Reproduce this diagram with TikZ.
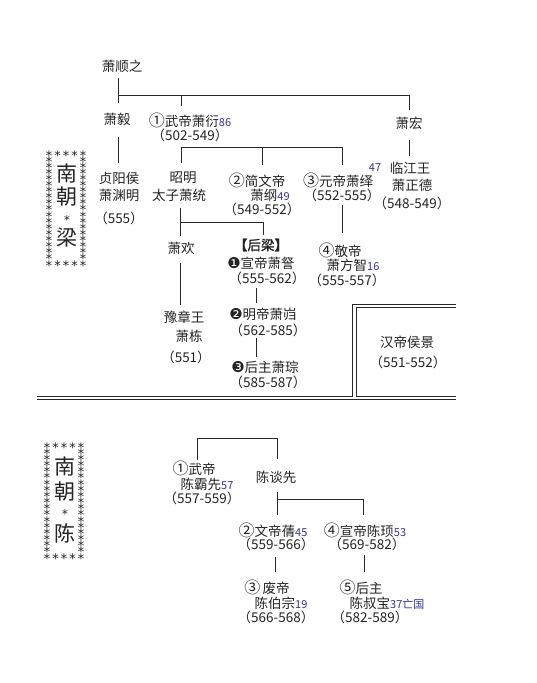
\documentclass[tikz,border=0pt]{standalone}
\usepackage{fontspec}
\setmainfont{Noto Sans CJK SC}
\newfontfamily\dv{DejaVu Sans}
\newfontfamily\dvm{DejaVu Sans Mono}
\newfontfamily\cjkb[FakeBold=1.5]{Noto Sans CJK SC}
\definecolor{nb}{RGB}{50,50,160}
\definecolor{tx}{RGB}{35,35,35}
\definecolor{ln}{RGB}{40,40,40}
\newcommand\bn[1]{{\fontsize{11}{11}\selectfont\color{nb}#1}}
\newcommand\cn[1]{{\fontsize{16}{13}\selectfont #1}}
\newcommand\bc[1]{{\dv\fontsize{15}{13}\selectfont #1}}
\begin{document}
\begin{tikzpicture}[x=1pt,y=-1pt,
  t/.style={font=\fontsize{13.5}{13.5}\selectfont, text=tx, inner sep=0pt},
  lk/.style={draw=ln, line width=0.8pt},
  dbl/.style={draw=ln, line width=0.9pt},
  big/.style={font=\fontsize{21}{21}\selectfont, text=tx, inner sep=0pt},
  sta/.style={font=\dvm\fontsize{13}{13}\selectfont, text=tx, inner sep=0pt, anchor=base},
  strow/.style={font=\dvm\fontsize{12}{12}\selectfont, text=tx, inner sep=0pt}]
\useasboundingbox (0,0) rectangle (537,683);

% ---------- star boxes ----------
\foreach \x [count=\n] in {49,57.5,66,74.5,83} {
  \node[sta] (lt\n) at (\x,160) {*};
  \node[sta] (lb\n) at (\x,270) {*};
}
\foreach \i in {1,...,17} {
  \node[sta] (ll\i) at (49,{160+\i*6.1}) {*};
  \node[sta] (lr\i) at (83,{160+\i*6.1}) {*};
}
\node[big] (lnan) at (67,174) {南};
\node[big] (lchao) at (67,197) {朝};
\node[strow] (lstar) at (67,220) {*};
\node[big] (lliang) at (67,238) {梁};

\foreach \x [count=\n] in {47,55.5,64,72.5,81} {
  \node[sta] (ct\n) at (\x,452) {*};
  \node[sta] (cb\n) at (\x,563) {*};
}
\foreach \i in {1,...,17} {
  \node[sta] (cl\i) at (47,{452+\i*6.1667}) {*};
  \node[sta] (cr\i) at (81,{452+\i*6.1667}) {*};
}
\node[big] (cnan) at (65,467) {南};
\node[big] (cchao) at (65,492) {朝};
\node[strow] (cstar) at (65,514) {*};
\node[big] (cchen) at (65,533) {陈};

% ---------- Liang ----------
\node[t] (sz) at (122,66) {萧顺之};
\node[t] (yi) at (117,119) {萧毅};
\node[t] (zy1) at (119,178) {贞阳侯};
\node[t] (zy2) at (119,195) {萧渊明};
\node[t] (zy3) at (119,218) {（555）};
\node[t] (wu1) at (190,120) {\cn{①}武帝萧衍\bn{86}};
\node[t] (wu2) at (190,135) {（502-549）};
\node[t] (zm1) at (183,178) {昭明};
\node[t] (zm2) at (179,195) {太子萧统};
\node[t] (jw1) at (257,180) {\cn{②}简文帝};
\node[t] (jw2) at (270,195) {萧纲\bn{49}};
\node[t] (jw3) at (262,209) {（549-552）};
\node[t] (yd1) at (338,180) {\cn{③}元帝萧绎};
\node[t] (n47) at (375,168) {\bn{47}};
\node[t] (yd2) at (342,195) {（552-555）};
\node[t] (xh) at (409,123) {萧宏};
\node[t] (lj1) at (410,168) {临江王};
\node[t] (lj2) at (412,185) {萧正德};
\node[t] (lj3) at (412,203) {（548-549）};
\node[t] (jd1) at (340,250) {\cn{④}敬帝};
\node[t] (jd2) at (353,265) {萧方智\bn{16}};
\node[t] (jd3) at (347,280) {（555-557）};
\node[t] (hl) at (261,245) {\cjkb【后梁】};
\node[t] (xd1) at (261,263) {\bc{❶}宣帝萧詧};
\node[t] (xd2) at (267,278.5) {（555-562）};
\node[t] (xhuan) at (181,248) {萧欢};
\node[t] (yz1) at (184,317) {豫章王};
\node[t] (yz2) at (189,336) {萧栋};
\node[t] (yz3) at (186,357) {（551）};
\node[t] (md1) at (263,314) {\bc{❷}明帝萧岿};
\node[t] (md2) at (268,330) {（562-585）};
\node[t] (hz1) at (265,367) {\bc{❸}后主萧琮};
\node[t] (hz2) at (268,382.5) {（585-587）};
\node[t] (hj1) at (407,342) {汉帝侯景};
\node[t] (hj2) at (408,362) {（551-552）};

% connector points (Liang)
\coordinate (a1) at (118,78);   \coordinate (a2) at (118,95);  \coordinate (a3) at (118,103);
\coordinate (a4) at (409,95);
\coordinate (a5) at (118,137);  \coordinate (a6) at (118,163);
\coordinate (b1) at (181,95);   \coordinate (b2) at (181,106);
\coordinate (c1) at (181,147);  \coordinate (c2) at (181,163);
\coordinate (c3) at (262,147);  \coordinate (c4) at (262,165);
\coordinate (c5) at (342,147);  \coordinate (c6) at (342,165);
\coordinate (h1) at (409,110);  \coordinate (h2) at (409,140); \coordinate (h3) at (409,156);
\coordinate (e1) at (342,205);  \coordinate (e2) at (342,233);
\coordinate (f1) at (180,208);  \coordinate (f2) at (180,222); \coordinate (f3) at (180,236);
\coordinate (f4) at (263,222);  \coordinate (f5) at (263,235);
\coordinate (g1) at (180,263);  \coordinate (g2) at (180,305);
\coordinate (k1) at (256,288);  \coordinate (k2) at (256,303);
\coordinate (k3) at (256,338);  \coordinate (k4) at (256,357);

\draw[lk] (a1) -- (a3);
\draw[lk] (a2) -- (a4);
\draw[lk] (a5) -- (a6);
\draw[lk] (b1) -- (b2);
\draw[lk] (c1) -- (c2);
\draw[lk] (c1) -- (c5);
\draw[lk] (c3) -- (c4);
\draw[lk] (c5) -- (c6);
\draw[lk] (a4) -- (h1);
\draw[lk] (h2) -- (h3);
\draw[lk] (e1) -- (e2);
\draw[lk] (f1) -- (f3);
\draw[lk] (f2) -- (f4) -- (f5);
\draw[lk] (g1) -- (g2);
\draw[lk] (k1) -- (k2);
\draw[lk] (k3) -- (k4);

% double border lines
\coordinate (d1) at (37,396);  \coordinate (d2) at (352,396);
\coordinate (d3) at (352,304); \coordinate (d4) at (456,304);
\coordinate (d5) at (456,307); \coordinate (d6) at (356,307);
\coordinate (d7) at (356,396); \coordinate (d8) at (456,396);
\coordinate (d9) at (37,399.5); \coordinate (d10) at (456,399.5);
\draw[dbl] (d1) -- (d2) -- (d3) -- (d4);
\draw[dbl] (d5) -- (d6) -- (d7) -- (d8);
\draw[dbl] (d9) -- (d10);

% ---------- Chen ----------
\node[t] (cw1) at (194,468) {\cn{①}武帝};
\node[t] (cw2) at (207,484) {陈霸先\bn{57}};
\node[t] (cw3) at (202,498) {（557-559）};
\node[t] (ctx) at (276,477) {陈谈先};
\node[t] (wd1) at (273,530) {\cn{②}文帝蒨\bn{45}};
\node[t] (wd2) at (276,544) {（559-566）};
\node[t] (xc1) at (365,530) {\cn{④}宣帝陈顼\bn{53}};
\node[t] (xc2) at (367,544) {（569-582）};
\node[t] (fd1) at (267,587) {\cn{③}\,废帝};
\node[t] (fd2) at (281,603) {陈伯宗\bn{19}};
\node[t] (fd3) at (276,617) {（566-568）};
\node[t] (hc1) at (361,587) {\cn{⑤}后主};
\node[t] (hc2) at (387,603) {陈叔宝\bn{37亡国}};
\node[t] (hc3) at (370,617) {（582-589）};

\coordinate (m1) at (197,438); \coordinate (m2) at (277,438);
\coordinate (m3) at (197,460); \coordinate (m4) at (277,459);
\coordinate (p1) at (277,492); \coordinate (p2) at (277,499); \coordinate (p3) at (277,515);
\coordinate (p4) at (363,499); \coordinate (p5) at (363,515);
\coordinate (q1) at (275,557); \coordinate (q2) at (275,572);
\coordinate (q3) at (364,555); \coordinate (q4) at (364,572);
\draw[lk] (m3) -- (m1) -- (m2) -- (m4);
\draw[lk] (p1) -- (p3);
\draw[lk] (p2) -- (p4) -- (p5);
\draw[lk] (q1) -- (q2);
\draw[lk] (q3) -- (q4);
\end{tikzpicture}
\end{document}
